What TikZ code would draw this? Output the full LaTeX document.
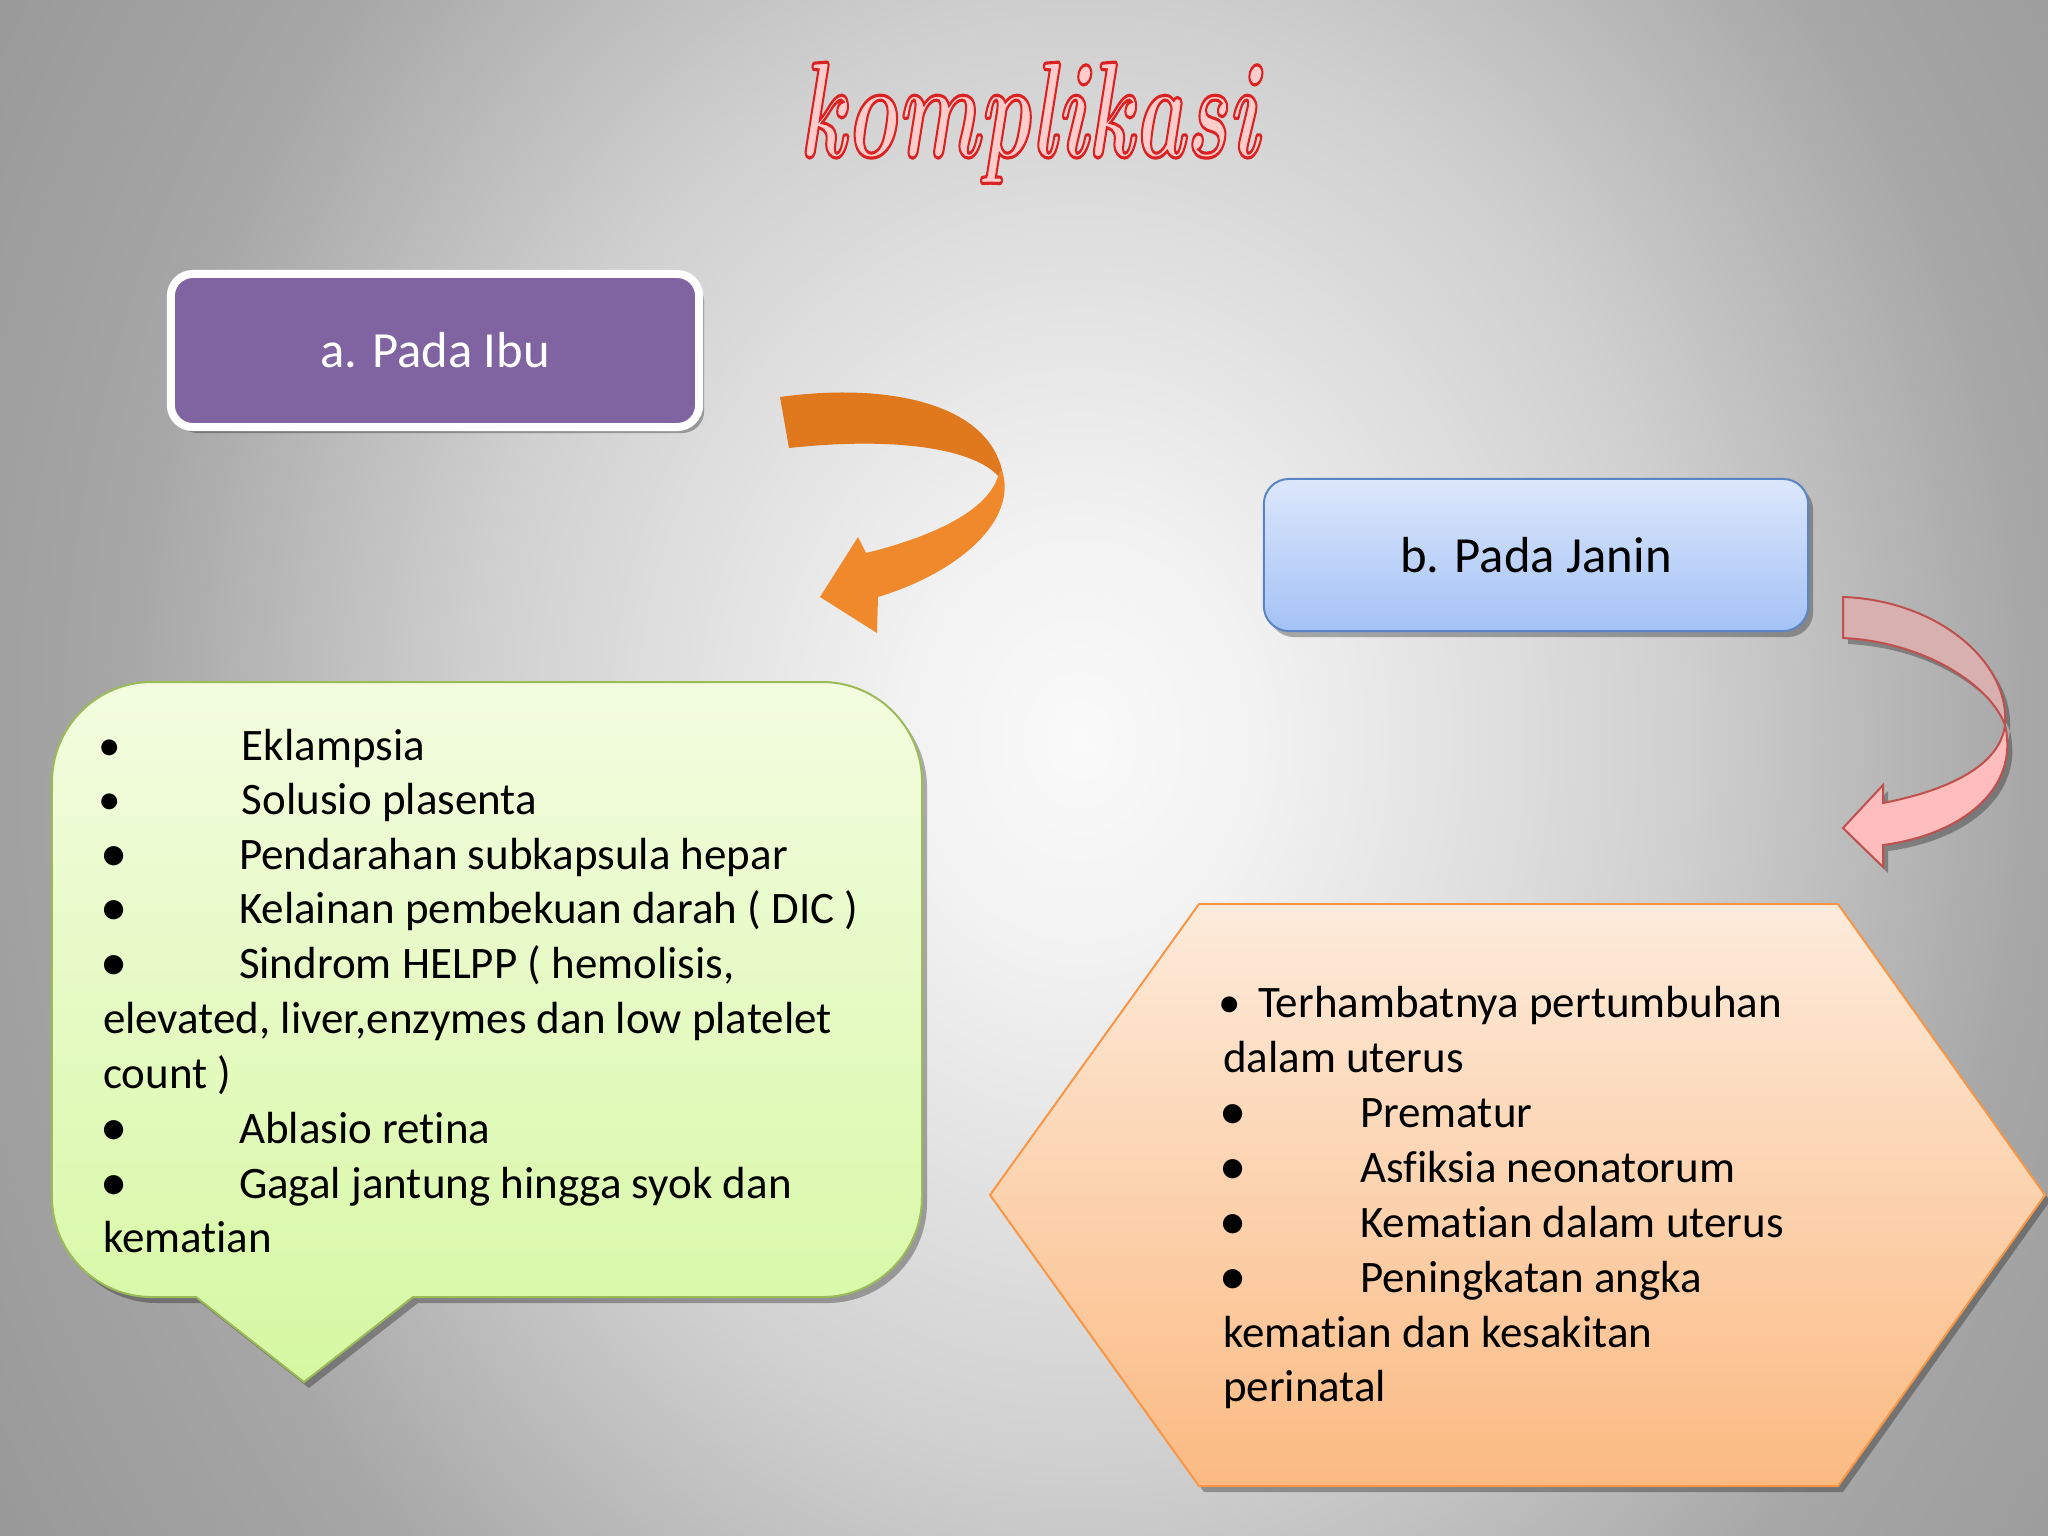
\documentclass[tikz,border=0pt]{standalone}
\usepackage{fontspec}
\setmainfont{Carlito}[Ligatures={NoCommon}]
\newfontfamily\titlefont[FakeBold=2.3]{lmroman10-bolditalic.otf}
\usetikzlibrary{shadows}
\newdimen\px \px=0.01cm
\definecolor{bg0}{RGB}{250,250,250}
\definecolor{bg1}{RGB}{242,242,242}
\definecolor{bg2}{RGB}{208,208,208}
\definecolor{bg3}{RGB}{166,166,166}
\definecolor{bg4}{RGB}{142,142,142}
\definecolor{bg5}{RGB}{130,130,130}
\pgfdeclareradialshading{bgshade}{\pgfpointorigin}{color(0bp)=(bg0); color(3bp)=(bg1); color(10bp)=(bg2); color(16bp)=(bg3); color(25bp)=(bg4); color(50bp)=(bg5)}
\definecolor{purp}{HTML}{8064A2}
\definecolor{blueTop}{HTML}{DCE7FB}
\definecolor{blueBot}{HTML}{A4C2F6}
\definecolor{blueBorder}{HTML}{5A85C2}
\definecolor{greenTop}{HTML}{F3FCE0}
\definecolor{greenBot}{HTML}{D6F8A2}
\definecolor{greenBorder}{HTML}{9BBB59}
\definecolor{orTop}{HTML}{FDEBDB}
\definecolor{orBot}{HTML}{FBBA82}
\definecolor{orBorder}{HTML}{F79646}
\definecolor{arrowDark}{HTML}{E0781E}
\definecolor{arrowLight}{HTML}{F0892B}
\definecolor{pinkDark}{HTML}{D9B0B0}
\definecolor{pinkLight}{HTML}{FFBDBD}
\definecolor{pinkBorder}{HTML}{C0504D}
\newcommand{\sbul}{\makebox[20\px]{•}}
\newcommand{\bbul}{\makebox[20\px]{\raisebox{-0.06em}{\fontsize{15.5}{15.5}\selectfont •}}}
\begin{document}
\begin{tikzpicture}[x=0.01cm,y=0.01cm,
  every node/.style={inner sep=0pt, outer sep=0pt},
  softshadow/.style={drop shadow={shadow xshift=0.05cm, shadow yshift=-0.06cm, opacity=0.3, fill=black}},
  listtext/.style={anchor=base west, font=\fontsize{12.8}{15.5}\selectfont, text=black},
  boxlabel/.style={font=\fontsize{14.4}{17}\selectfont},
  boxA/.style={rounded corners=0.22cm, fill=purp, draw=white, line width=0.08cm,
    minimum width=5.28cm, minimum height=1.53cm, text=white, boxlabel, softshadow},
  boxB/.style={rounded corners=0.25cm, top color=blueTop, bottom color=blueBot,
    draw=blueBorder, line width=0.02cm, minimum width=5.44cm, minimum height=1.52cm,
    text=black, boxlabel, softshadow},
  greenfill/.style={top color=greenTop, bottom color=greenBot, draw=greenBorder, line width=0.02cm, softshadow},
  orangefill/.style={top color=orTop, bottom color=orBot, draw=orBorder, line width=0.02cm, softshadow},
  pinkband/.style={draw=pinkBorder, line width=0.02cm},
]
\useasboundingbox (0,0) rectangle (2048,-1536);
\begin{scope}
  \clip (0,0) rectangle (2048,-1536);
  \shade[shading=bgshade] (1080,-740) ellipse[x radius=15cm, y radius=18cm];
\end{scope}

% title
\node[anchor=base west] (title) at (799,-157)
  {\resizebox{4.59cm}{0.95cm}{\special{pdf:bcolor [1 0.80 0.80] [0.86 0.13 0.13]}\titlefont komplikasi\special{pdf:ecolor}}};

% header boxes
\node[boxA] (ibu) at (435,-350.5) {a. Pada Ibu};
\node[boxB] (janin) at (1536,-555) {b. Pada Janin};

% green callout
\path[greenfill] (152,-682) -- (822,-682) arc[start angle=90,end angle=0,radius=1cm]
  -- (922,-1197) arc[start angle=0,end angle=-90,radius=1cm]
  -- (413,-1297) -- (304,-1382) -- (196,-1297) -- (152,-1297)
  arc[start angle=270,end angle=180,radius=1cm]
  -- (52,-782) arc[start angle=180,end angle=90,radius=1cm] -- cycle;

% orange hexagon
\path[orangefill] (1199,-904) -- (1838,-904) -- (2045,-1195) -- (1838,-1486)
  -- (1199,-1486) -- (990,-1195) -- cycle;

% orange curved arrow
\begin{scope}[softshadow]
\fill[arrowDark] (780,-397) .. controls (880,-383) and (985,-400) .. (1002,-470)
  -- (998,-476) .. controls (975,-450) and (900,-436) .. (789,-448) -- cycle;
\fill[arrowLight] (1002,-470) .. controls (1018,-520) and (960,-572) .. (878,-597)
  -- (877,-633) -- (820,-597) -- (858,-537) -- (866,-553)
  .. controls (935,-536) and (988,-510) .. (998,-476) -- cycle;
\end{scope}

% pink curved arrow
\filldraw[pinkband, fill=pinkDark, softshadow] (1843,-597) .. controls (1935,-600) and (2010,-660) .. (2005,-725)
  .. controls (1990,-685) and (1925,-642) .. (1843,-638) -- cycle;
\filldraw[pinkband, fill=pinkLight, softshadow] (2005,-725) .. controls (2020,-790) and (1960,-835) .. (1883,-845)
  -- (1883,-867) -- (1843,-828) -- (1883,-785) -- (1883,-803)
  .. controls (1950,-790) and (2000,-765) .. (2005,-725) -- cycle;

% green list
\node[listtext] (g1) at (100,-760) {\sbul\hspace*{122\px}Eklampsia};
\node[listtext] (g2) at (100,-814) {\sbul\hspace*{122\px}Solusio plasenta};
\node[listtext] (g3) at (104,-869) {\bbul\hspace*{115\px}Pendarahan subkapsula hepar};
\node[listtext] (g4) at (104,-923) {\bbul\hspace*{115\px}Kelainan pembekuan darah ( DIC )};
\node[listtext] (g5) at (104,-978) {\bbul\hspace*{115\px}Sindrom HELPP ( hemolisis,};
\node[listtext] (g6) at (103,-1033) {elevated, liver,enzymes dan low platelet};
\node[listtext] (g7) at (103,-1088) {count )};
\node[listtext] (g8) at (104,-1143) {\bbul\hspace*{115\px}Ablasio retina};
\node[listtext] (g9) at (104,-1198) {\bbul\hspace*{115\px}Gagal jantung hingga syok dan};
\node[listtext] (g10) at (103,-1252) {kematian};

% orange list
\node[listtext] (o1) at (1220,-1017) {\sbul\hspace*{18\px}Terhambatnya pertumbuhan};
\node[listtext] (o2) at (1223,-1072) {dalam uterus};
\node[listtext] (o3) at (1223,-1127) {\bbul\hspace*{117\px}Prematur};
\node[listtext] (o4) at (1223,-1182) {\bbul\hspace*{117\px}Asfiksia neonatorum};
\node[listtext] (o5) at (1223,-1237) {\bbul\hspace*{117\px}Kematian dalam uterus};
\node[listtext] (o6) at (1223,-1292) {\bbul\hspace*{117\px}Peningkatan angka};
\node[listtext] (o7) at (1223,-1347) {kematian dan kesakitan};
\node[listtext] (o8) at (1223,-1401) {perinatal};
\end{tikzpicture}
\end{document}
